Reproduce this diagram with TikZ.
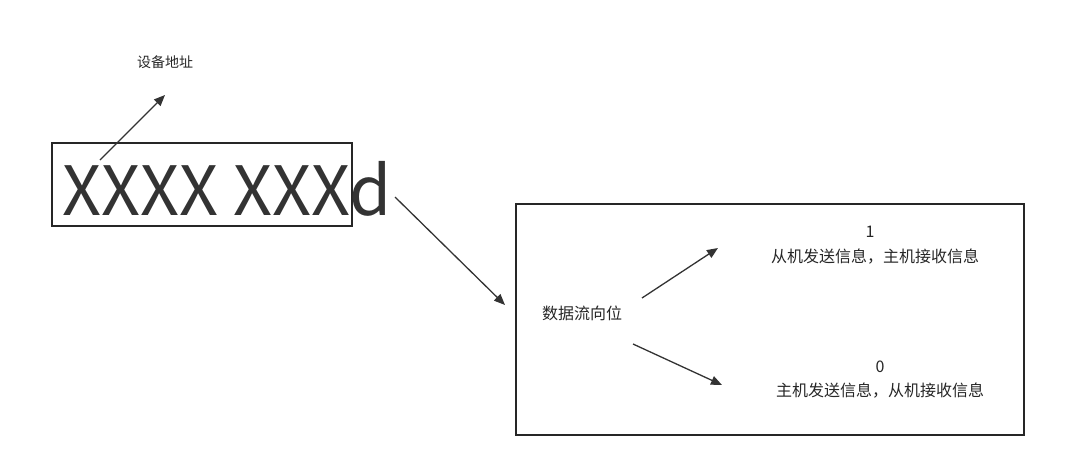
\documentclass[tikz,border=0pt]{standalone}
\usepackage{fontspec}
\setmainfont{Noto Sans CJK SC}
\usetikzlibrary{arrows.meta}
\begin{document}
\begin{tikzpicture}[x=1pt,y=-1pt,
  lbl/.style={inner sep=0pt,font=\fontsize{16}{18}\selectfont,text=black!85},
  arr/.style={draw=black!80,line width=1.3pt,-{Triangle[length=11pt,width=9pt]}},
  box/.style={draw=black!85,line width=1.3pt}]
\useasboundingbox (0,0) rectangle (1071,463);
\draw[box] (52,143) rectangle (352,226);
\node[inner sep=0pt,anchor=base west,font=\fontsize{68}{70}\selectfont,text=black!80] (code) at (62,215) {XXXX XXXd};
\node[lbl,font=\fontsize{14}{16}\selectfont] (addr) at (165,62) {设备地址};
\coordinate (a1) at (100,160);
\coordinate (a2) at (165,95);
\draw[arr] (a1) -- (a2);
\draw[box] (516,204) rectangle (1024,435);
\coordinate (b1) at (395,197);
\coordinate (b2) at (505,305);
\draw[arr] (b1) -- (b2);
\node[lbl] (dir) at (582,313) {数据流向位};
\node[lbl] (one) at (870,232) {1};
\node[lbl] (s1) at (875,257) {从机发送信息，主机接收信息};
\node[lbl] (zero) at (880,367) {0};
\node[lbl] (s0) at (880,391) {主机发送信息，从机接收信息};
\coordinate (c1) at (642,298);
\coordinate (c2) at (718,248);
\coordinate (d1) at (633,344);
\coordinate (d2) at (722,385);
\draw[arr] (c1) -- (c2);
\draw[arr] (d1) -- (d2);
\end{tikzpicture}
\end{document}
